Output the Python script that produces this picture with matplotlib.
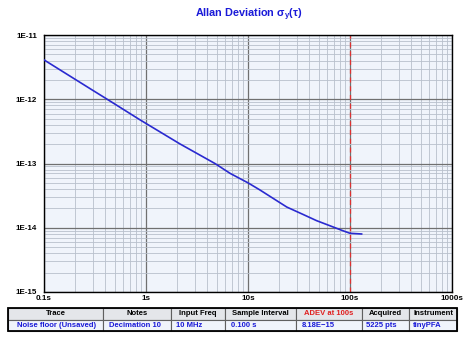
import matplotlib
matplotlib.use("Agg")
import matplotlib.pyplot as plt
from matplotlib.ticker import LogLocator, NullFormatter

plt.rcParams['font.family'] = ['Liberation Sans', 'DejaVu Sans']
plt.rcParams['mathtext.fontset'] = 'custom'
plt.rcParams['mathtext.bf'] = 'Liberation Sans:bold'
plt.rcParams['mathtext.rm'] = 'Liberation Sans:bold'

# ADEV trace
tau = [0.1, 0.19, 0.3, 0.4, 0.87, 1, 2.15, 4.74, 6.7, 10, 13, 24, 35, 47, 64, 85, 100, 130]
adev = [4.1e-12, 2.17e-12, 1.38e-12, 1.04e-12, 4.8e-13, 4.2e-13, 2.02e-13, 1.0e-13,
        7.0e-14, 5.0e-14, 3.9e-14, 2.1e-14, 1.6e-14, 1.29e-14, 1.07e-14, 9.0e-15, 8.2e-15, 8.0e-15]

xticks = [0.1, 1, 10, 100, 1000]
xlabels = ['0.1s', '1s', '10s', '100s', '1000s']
yticks = [1e-15, 1e-14, 1e-13, 1e-12, 1e-11]
ylabels = ['1E-15', '1E-14', '1E-13', '1E-12', '1E-11']
marker_tau = 100

headers = ['Trace', 'Notes', 'Input Freq', 'Sample Interval', 'ADEV at 100s', 'Acquired', 'Instrument']
values = ['Noise floor (Unsaved)', 'Decimation 10', '10 MHz', '0.100 s', '8.18E\u221215', '5225 pts', 'tinyPFA']
col_px = [95, 68, 54, 71, 66, 47, 48]

W, H = 474, 351
fig = plt.figure(figsize=(W / 100, H / 100), dpi=100)
ax = fig.add_axes([44 / W, 1 - 292 / H, 408 / W, 257 / H])
ax.set_facecolor('#f0f4fb')

ax.plot(tau, adev, color='#2a2ad0', lw=1.2, zorder=3)
ax.axvline(marker_tau, color='#e03030', lw=0.9, ls=(0, (4, 3)), zorder=2)

ax.set_xscale('log')
ax.set_yscale('log')
ax.set_xlim(0.1, 1000)
ax.set_ylim(1e-15, 1e-11)
ax.set_xticks(xticks)
ax.set_xticklabels(xlabels)
ax.set_yticks(yticks)
ax.set_yticklabels(ylabels)
ax.xaxis.set_minor_locator(LogLocator(base=10, subs=range(2, 10)))
ax.yaxis.set_minor_locator(LogLocator(base=10, subs=range(2, 10)))
ax.xaxis.set_minor_formatter(NullFormatter())
ax.yaxis.set_minor_formatter(NullFormatter())
ax.tick_params(which='both', length=0, labelsize=5.8)
ax.tick_params(axis='x', pad=2)
ax.tick_params(axis='y', pad=5)
for lab in ax.get_xticklabels() + ax.get_yticklabels():
    lab.set_fontweight('bold')
ax.grid(which='major', color='#707070', lw=0.9, zorder=1)
ax.grid(which='minor', color='#b8c0cc', lw=0.6, zorder=1)
for s in ax.spines.values():
    s.set_linewidth(1.0)
    s.set_color('black')

fig.text(249 / W, 1 - 15 / H, r'Allan Deviation σ$_\mathbf{y}$(τ)', color='#1a1ad8',
         fontsize=7.8, fontweight='bold', ha='center', va='center')

# info table
tab_ax = fig.add_axes([8 / W, 1 - 331 / H, 449 / W, 23 / H])
tab_ax.axis('off')
tot = float(sum(col_px))
tbl = tab_ax.table(cellText=[headers, values], colWidths=[c / tot for c in col_px],
                   bbox=[0, 0, 1, 1], cellLoc='left')
tbl.auto_set_font_size(False)
for (r, c), cell in tbl.get_celld().items():
    cell.set_edgecolor('#606060')
    cell.set_linewidth(0.8)
    txt = cell.get_text()
    txt.set_fontsize(5.5)
    txt.set_fontweight('bold')
    if r == 0:
        cell.set_facecolor('#e4e6ea')
        cell._loc = 'center'
        txt.set_ha('center')
        txt.set_color('#e02020' if c == 4 else 'black')
    else:
        cell.set_facecolor('#f0f4fb')
        txt.set_color('#1a1ad8')
        cell.PAD = 0.09
tab_ax.add_patch(plt.Rectangle((0, 0), 1, 1, transform=tab_ax.transAxes, fill=False,
                               lw=1.3, edgecolor='black', clip_on=False))

fig.savefig('out.png', dpi=100)
